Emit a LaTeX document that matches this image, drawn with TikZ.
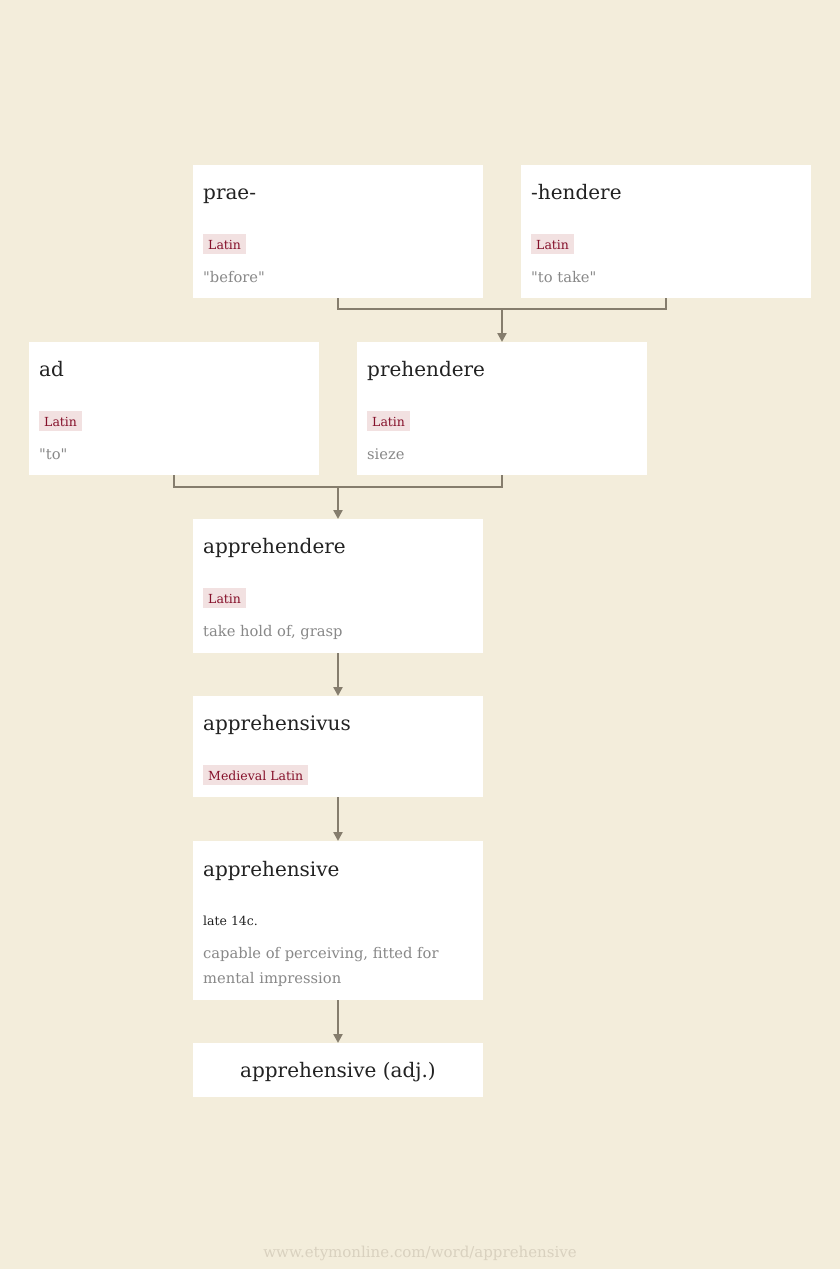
\documentclass[tikz,border=0pt]{standalone}
\usepackage{fontspec}
\setmainfont{DejaVu Serif}
\usetikzlibrary{arrows.meta}
\definecolor{bg}{HTML}{F3EDDB}
\definecolor{ln}{HTML}{857D6D}
\definecolor{tagbg}{HTML}{F2E1E1}
\definecolor{tagfg}{HTML}{85102A}
\definecolor{glosscol}{HTML}{888888}
\definecolor{ttlcol}{HTML}{222222}
\definecolor{footcol}{HTML}{D9D1BF}
\begin{document}
\begin{tikzpicture}[x=1pt,y=-1pt,
  wbox/.style={fill=white, draw=none, anchor=north west, minimum width=290pt, inner sep=0pt, outer sep=0pt},
  ttl/.style={anchor=base west, inner sep=0pt, font=\fontsize{20}{24}\selectfont, text=ttlcol},
  tagbox/.style={anchor=north west, fill=tagbg, text=tagfg, font=\fontsize{12.5}{15}\selectfont, inner xsep=5pt, inner ysep=0pt, minimum height=20pt, text height=10pt, text depth=0pt},
  gls/.style={anchor=base west, inner sep=0pt, font=\fontsize{14.7}{25}\selectfont, text=glosscol, align=left},
  arr/.style={draw=ln, line width=2.3pt, -{Triangle[length=9pt,width=9pt]}},
  lnk/.style={draw=ln, line width=2.3pt}
]
\fill[bg] (0,0) rectangle (840,1269);
\useasboundingbox (0,0) rectangle (840,1269);

% boxes
\node[wbox, minimum height=133pt] (prae) at (193,165) {};
\node[wbox, minimum height=133pt] (hend) at (521,165) {};
\node[wbox, minimum height=133pt] (ad) at (29,342) {};
\node[wbox, minimum height=133pt] (preh) at (357,342) {};
\node[wbox, minimum height=134pt] (apprd) at (193,519) {};
\node[wbox, minimum height=101pt] (apprv) at (193,696) {};
\node[wbox, minimum height=159pt] (apprs) at (193,841) {};
\node[wbox, minimum height=54pt] (adj) at (193,1043) {};

% prae-
\node[ttl] (t1) at (203,199) {prae-};
\node[tagbox] (g1) at (203,234) {Latin};
\node[gls] (d1) at (203,282) {\textquotedbl before\textquotedbl};
% -hendere
\node[ttl] (t2) at (531,199) {-hendere};
\node[tagbox] (g2) at (531,234) {Latin};
\node[gls] (d2) at (531,282) {\textquotedbl to take\textquotedbl};
% ad
\node[ttl] (t3) at (39,376) {ad};
\node[tagbox] (g3) at (39,411) {Latin};
\node[gls] (d3) at (39,459) {\textquotedbl to\textquotedbl};
% prehendere
\node[ttl] (t4) at (367,376) {prehendere};
\node[tagbox] (g4) at (367,411) {Latin};
\node[gls] (d4) at (367,459) {sieze};
% apprehendere
\node[ttl] (t5) at (203,553) {apprehendere};
\node[tagbox] (g5) at (203,588) {Latin};
\node[gls] (d5) at (203,636) {take hold of, grasp};
% apprehensivus
\node[ttl] (t6) at (203,730) {apprehensivus};
\node[tagbox] (g6) at (203,765) {Medieval Latin};
% apprehensive
\node[ttl] (t7) at (203,876) {apprehensive};
\node[anchor=base west, inner sep=0pt, font=\fontsize{12.5}{15}\selectfont, text=ttlcol] (y7) at (203,925) {late 14c.};
\node[gls] (d7) at (203,983) {capable of perceiving, fitted for\\mental impression};
% apprehensive (adj.)
\node[anchor=base, inner sep=0pt, font=\fontsize{20}{24}\selectfont, text=ttlcol] (t8) at (338,1077) {apprehensive (adj.)};

% connectors
\coordinate (j1) at (502,309);
\draw[lnk] (prae.south) |- (j1) -| (hend.south);
\draw[arr] (j1) -- (preh.north);
\coordinate (j2) at (338,487);
\draw[lnk] (ad.south) |- (j2) -| (preh.south);
\draw[arr] (j2) -- (apprd.north);
\draw[arr] (apprd.south) -- (apprv.north);
\draw[arr] (apprv.south) -- (apprs.north);
\draw[arr] (apprs.south) -- (adj.north);

% footer
\node[anchor=base, inner sep=0pt, font=\fontsize{15}{18}\selectfont, text=footcol] (foot) at (420,1257) {www.etymonline.com/word/apprehensive};
\end{tikzpicture}
\end{document}
